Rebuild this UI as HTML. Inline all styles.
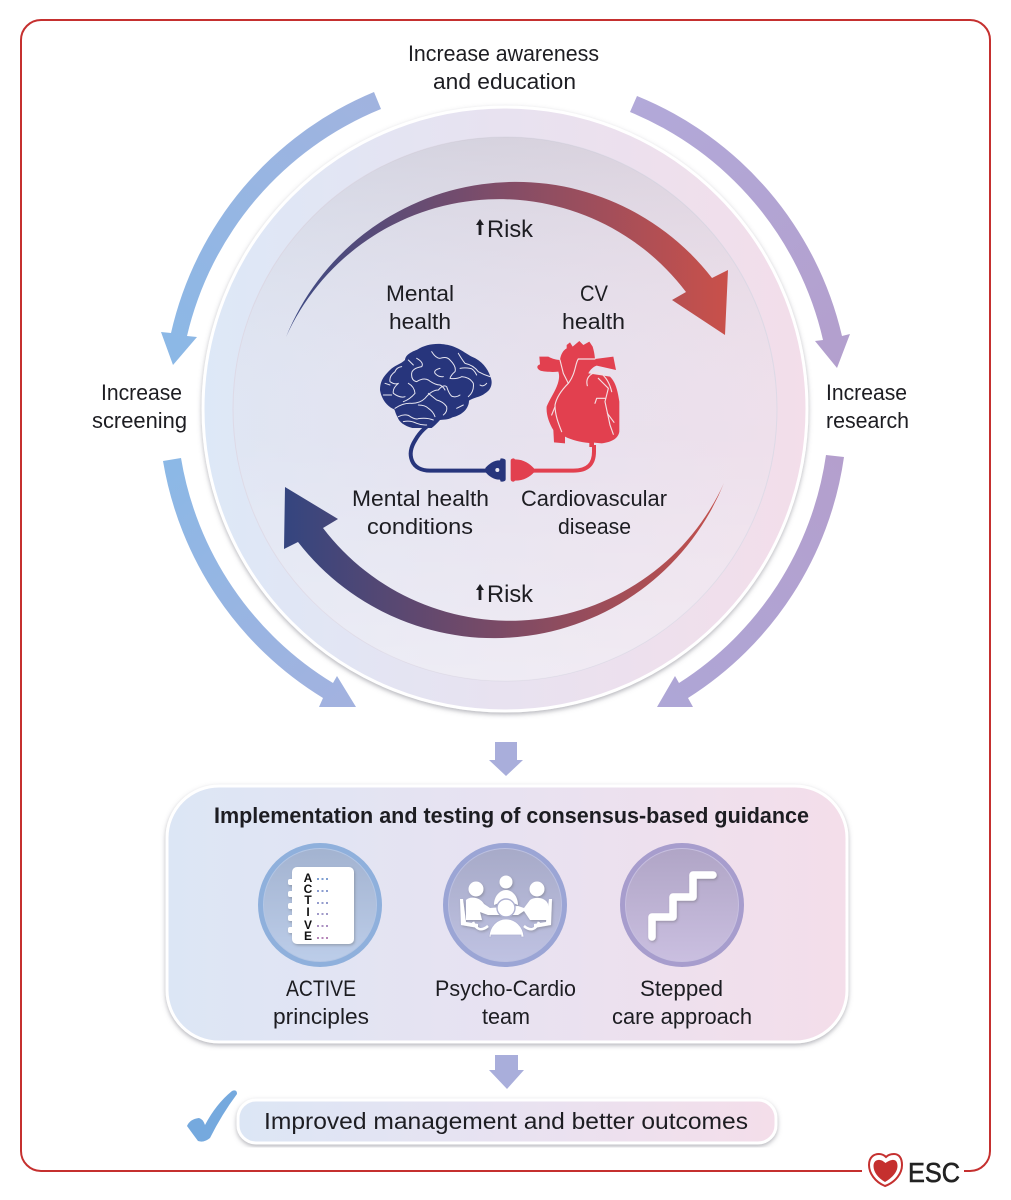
<!DOCTYPE html>
<html lang="en">
<head>
<meta charset="utf-8">
<title>Mental health and cardiovascular health</title>
<style>
html,body{margin:0;padding:0;background:#fff;width:1011px;height:1200px;overflow:hidden}
svg{display:block}
text{font-family:"Liberation Sans",sans-serif;font-size:22px;fill:#1d1d22}
</style>
</head>
<body>
<svg width="1011" height="1200" viewBox="0 0 1011 1200" xmlns="http://www.w3.org/2000/svg">
<defs>
<linearGradient id="ring" x1="0" x2="1" y1="0" y2="0"><stop offset="0" stop-color="#dde8f7"/><stop offset=".5" stop-color="#e8e2f0"/><stop offset="1" stop-color="#f3deea"/></linearGradient>
<linearGradient id="inH" x1="0" x2="1" y1="0" y2="0"><stop offset="0" stop-color="#dfe5f3"/><stop offset=".5" stop-color="#e6e1ee"/><stop offset="1" stop-color="#eedfeb"/></linearGradient>
<linearGradient id="inV" x1="0" x2="0" y1="0" y2="1"><stop offset="0" stop-color="#8b8b92" stop-opacity=".17"/><stop offset=".55" stop-color="#fff" stop-opacity=".02"/><stop offset="1" stop-color="#fff" stop-opacity=".35"/></linearGradient>
<linearGradient id="rt" gradientUnits="userSpaceOnUse" x1="286" y1="0" x2="727" y2="0"><stop offset="0" stop-color="#3c4a84"/><stop offset="1" stop-color="#c9504a"/></linearGradient>
<linearGradient id="rb" gradientUnits="userSpaceOnUse" x1="284" y1="0" x2="724" y2="0"><stop offset="0" stop-color="#34457f"/><stop offset="1" stop-color="#c4504b"/></linearGradient>
<linearGradient id="bl" gradientUnits="userSpaceOnUse" x1="165" y1="360" x2="380" y2="95"><stop offset="0" stop-color="#8bb8e6"/><stop offset="1" stop-color="#a1b3df"/></linearGradient>
<linearGradient id="bl2" gradientUnits="userSpaceOnUse" x1="165" y1="460" x2="355" y2="705"><stop offset="0" stop-color="#8bb8e6"/><stop offset="1" stop-color="#a3b2df"/></linearGradient>
<linearGradient id="pu" gradientUnits="userSpaceOnUse" x1="632" y1="100" x2="850" y2="365"><stop offset="0" stop-color="#b2a9d9"/><stop offset="1" stop-color="#b39fcd"/></linearGradient>
<linearGradient id="pu2" gradientUnits="userSpaceOnUse" x1="844" y1="457" x2="657" y2="707"><stop offset="0" stop-color="#b49fcd"/><stop offset="1" stop-color="#aea6d6"/></linearGradient>
<linearGradient id="box" x1="0" x2="1" y1="0" y2="0"><stop offset="0" stop-color="#dce6f5"/><stop offset=".5" stop-color="#e8e2f1"/><stop offset="1" stop-color="#f4deea"/></linearGradient>
<linearGradient id="c1" x1="0" x2="0" y1="0" y2="1"><stop offset="0" stop-color="#a3b3d0"/><stop offset="1" stop-color="#bccde9"/></linearGradient>
<linearGradient id="c2" x1="0" x2="0" y1="0" y2="1"><stop offset="0" stop-color="#a7aac8"/><stop offset="1" stop-color="#bfc2e2"/></linearGradient>
<linearGradient id="c3" x1="0" x2="0" y1="0" y2="1"><stop offset="0" stop-color="#b0a5c6"/><stop offset="1" stop-color="#cabfe0"/></linearGradient>
<filter id="sh" x="-10%" y="-10%" width="120%" height="120%"><feDropShadow dx="0" dy="2" stdDeviation="2.5" flood-color="#6b6b78" flood-opacity=".5"/></filter>
<filter id="sm" x="-20%" y="-20%" width="140%" height="140%"><feDropShadow dx="1" dy="1.5" stdDeviation="1.2" flood-color="#555" flood-opacity=".35"/></filter>
</defs>

<!-- frame -->
<path d="M862 1171H41A20 20 0 0 1 21 1151V40A20 20 0 0 1 41 20H970A20 20 0 0 1 990 40V1151A20 20 0 0 1 970 1171H964" fill="none" stroke="#c5302f" stroke-width="2"/>

<!-- outer arrows -->
<path d="M374 92A343 343 0 0 0 171 333L161 332L173 365L197 337L187 336A325 325 0 0 1 381 109Z" fill="url(#bl)"/>
<path d="M637 96A343 343 0 0 1 842 336L850 334L837 368L815 341L823 340A325 325 0 0 0 630 112Z" fill="url(#pu)"/>
<path d="M163 461A344 344 0 0 0 323 698L319 707L356 707L337 676L333 683A326 326 0 0 1 181 458Z" fill="url(#bl2)"/>
<path d="M844 457A342 342 0 0 1 688 698L693 707L657 707L675 676L679 683A325 325 0 0 0 826 455Z" fill="url(#pu2)"/>

<!-- main disk -->
<circle cx="505" cy="409" r="302" fill="url(#ring)" stroke="#fff" stroke-width="3" filter="url(#sh)"/>
<circle cx="505" cy="409" r="272" fill="url(#inH)" stroke="#ddd9e6" stroke-width="1"/>
<circle cx="505" cy="409" r="272" fill="url(#inV)"/>

<!-- risk arrows -->
<path d="M286 337A248 248 0 0 1 712 278L728 270L725 335L672 300L686 292A234 234 0 0 0 286 337Z" fill="url(#rt)"/>
<path d="M724 483A248 248 0 0 1 298 542L284 549L285 487L338 519L323 528A235 235 0 0 0 724 483Z" fill="url(#rb)"/>
<path d="M480 219l-4 6h2.6v10h2.8v-10h2.6z" fill="#1d1d22"/>
<path d="M480 584l-4 6h2.6v10h2.8v-10h2.6z" fill="#1d1d22"/>

<!-- cords and plugs -->
<g transform="translate(340 330) scale(.33333)">
  <path d="M290 270C262 285 240 305 226 330C212 352 208 372 216 392C224 412 244 422 270 422L440 422" fill="none" stroke="#27357c" stroke-width="12" stroke-linecap="round"/>
  <path d="M762 345V365C762 400 745 422 700 422H570" fill="none" stroke="#e2404f" stroke-width="12"/>
  <path d="M436 414C446 402 462 390 480 391L482 385Q497 385 497 392L497 448Q497 455 482 455L480 449C462 450 446 438 436 426Z" fill="#27357c"/>
  <circle cx="472" cy="420" r="6" fill="#e9e7f0"/>
  <path d="M512 392Q512 385 522 385L525 388C552 388 570 402 582 415L582 427C570 440 552 452 525 452L522 455Q512 455 512 448Z" fill="#e2404f"/>
</g>

<!-- brain -->
<g transform="translate(375 340) scale(.33333)">
  <path d="M15 150C15 128 22 112 45 90C55 78 78 72 90 60C92 42 112 35 128 28C150 14 185 8 212 14C245 18 268 38 290 50C320 62 338 85 346 110C355 130 348 150 330 160C315 172 295 172 282 182C282 205 262 226 232 232C218 240 204 238 195 240C186 250 178 258 170 264L112 264C88 258 72 245 68 232C62 222 60 212 58 208C40 202 20 182 15 150Z" fill="#27357c"/>
  <g fill="none" stroke="#e6e5f0" stroke-width="3" stroke-linecap="round" stroke-linejoin="round">
    <path d="M60 205Q85 188 110 190Q135 190 150 175Q170 150 190 150Q205 132 215 140Q225 170 235 170Q245 172 255 165"/>
    <path d="M125 55Q148 68 140 80Q112 85 110 100Q108 122 125 125Q145 112 160 120Q180 135 195 135Q205 140 210 150"/>
    <path d="M170 35Q182 55 195 55Q215 48 225 60Q245 80 240 95Q228 105 225 115Q245 118 260 110Q285 112 295 130Q298 155 280 170"/>
    <path d="M80 80Q65 82 60 95Q42 108 45 125Q60 135 70 130Q52 145 55 160Q75 175 90 170"/>
    <path d="M100 130Q118 140 120 160Q105 178 85 185"/>
    <path d="M250 40Q262 60 270 70Q295 75 310 95Q328 105 345 110"/>
    <path d="M160 160Q175 172 185 180Q205 185 215 200Q218 215 205 225"/>
    <path d="M130 195Q150 195 160 205Q175 215 180 230"/>
    <path d="M70 230Q85 222 100 226Q120 240 130 236Q155 232 175 240"/>
    <path d="M85 245Q105 240 125 250Q140 256 155 255"/>
    <path d="M305 105Q295 85 285 85Q270 82 255 85"/>
    <path d="M315 135Q325 142 335 130"/>
    <path d="M30 130L45 135M25 165L50 165"/>
    <path d="M195 85Q175 90 180 100Q190 112 205 110"/>
    <path d="M245 205L265 195"/>
    <path d="M100 60L115 75"/>
  </g>
</g>

<!-- heart -->
<g transform="translate(530 335) scale(.33333)">
  <path d="M110 30L120 22L128 35L148 18L160 30L178 20L188 35C192 48 194 60 195 72L250 65L258 105L200 92C190 95 180 105 175 115L240 125C255 140 262 160 268 200L268 290C265 310 245 322 215 325L192 323L192 336L178 336L178 324C150 322 125 315 105 305L105 325L72 322L70 285C58 265 48 240 50 215C58 195 72 175 80 155C86 140 90 125 85 110C65 112 45 110 35 108C22 105 16 92 30 88L28 65L55 65C68 72 80 75 90 75C92 58 100 45 110 40Z" fill="#e2404f"/>
  <g fill="none" stroke="#f4dfe3" stroke-width="3.4" stroke-linecap="round" stroke-linejoin="round">
    <path d="M90 75L100 115L115 145"/>
    <path d="M145 72C135 85 138 115 115 145C95 165 80 185 75 210C75 240 85 265 95 290"/>
    <path d="M75 215L65 240"/>
    <path d="M145 72L195 72"/>
    <path d="M172 152C166 130 180 115 200 112C220 112 238 140 245 170"/>
    <path d="M205 130L235 160L225 200L240 270L250 298"/>
    <path d="M225 190L200 190L195 205"/>
    <path d="M232 235L252 262"/>
  </g>
</g>

<!-- top arrow down -->
<path d="M495 742H517V760H523L506 776L489 760H495Z" fill="#a9aedb"/>

<!-- box -->
<rect x="167" y="786" width="680" height="256" rx="52" fill="url(#box)" stroke="#fff" stroke-width="3" filter="url(#sh)"/>

<!-- icons -->
<circle cx="320" cy="905" r="62" fill="#8fb0dc"/><circle cx="320" cy="905" r="56.5" fill="url(#c1)" stroke="#b4c6e4" stroke-width="1"/>
<circle cx="505" cy="905" r="62" fill="#9ba5d5"/><circle cx="505" cy="905" r="56.5" fill="url(#c2)" stroke="#bcc0e0" stroke-width="1"/>
<circle cx="682" cy="905" r="62" fill="#a79dcd"/><circle cx="682" cy="905" r="56.5" fill="url(#c3)" stroke="#c7bfdf" stroke-width="1"/>

<g filter="url(#sm)" fill="#fff">
  <rect x="292" y="867" width="62" height="77" rx="5"/>
  <rect x="288" y="879" width="8" height="6" rx="2"/><rect x="288" y="891" width="8" height="6" rx="2"/><rect x="288" y="903" width="8" height="6" rx="2"/><rect x="288" y="915" width="8" height="6" rx="2"/><rect x="288" y="927" width="8" height="6" rx="2"/>
</g>
<g text-anchor="middle">
  <text x="308" y="882" style="font-size:12px;font-weight:bold;fill:#111">A</text>
  <text x="308" y="893" style="font-size:12px;font-weight:bold;fill:#111">C</text>
  <text x="308" y="904" style="font-size:12px;font-weight:bold;fill:#111">T</text>
  <text x="308" y="916" style="font-size:12px;font-weight:bold;fill:#111">I</text>
  <text x="308" y="929" style="font-size:12px;font-weight:bold;fill:#111">V</text>
  <text x="308" y="940" style="font-size:12px;font-weight:bold;fill:#111">E</text>
</g>
<g stroke-width="2" stroke-dasharray="2 2.5" fill="none">
  <path d="M317 879H329" stroke="#7f9fd2"/><path d="M317 891H329" stroke="#8b9dd0"/><path d="M317 903H329" stroke="#949ccd"/><path d="M317 914H329" stroke="#a09ac8"/><path d="M317 926H329" stroke="#ab90c2"/><path d="M317 938H329" stroke="#b685b8"/>
</g>

<g filter="url(#sm)" fill="#fff">
  <circle cx="476" cy="889" r="7.5"/><circle cx="506" cy="882" r="6.5"/><circle cx="537" cy="889" r="7.5"/>
  <path d="M494 905C494 896 500 890 506 890C512 890 518 896 518 905L506 900Z"/>
  <path d="M466 900C470 896 480 897 484 904L490 908L518 906L524 908L530 900C536 896 546 898 548 904L549 920H530L524 911L518 915H488L480 912L482 920H466Z"/>
  <path d="M460 899L463 899L466 922L478 924L478 928L461 925Z"/>
  <path d="M552 899L549 899L546 922L534 924L534 928L551 925Z"/>
  <path d="M473 922C476 929 481 932 488 926" fill="none" stroke="#fff" stroke-width="2.5"/>
  <path d="M539 922C536 929 531 932 524 926" fill="none" stroke="#fff" stroke-width="2.5"/>
</g>
<circle cx="506" cy="908" r="9" fill="#fff" stroke="#aeb1d2" stroke-width="1.4"/>
<path d="M489 937C490 926 497 919 506 919C515 919 523 926 524 937H521V935H491V937Z" fill="#fff" stroke="#b0b3d4" stroke-width=".8"/>
<path d="M652 937V917H673V897H693V875H713" fill="none" stroke="#fff" stroke-width="7.5" stroke-linecap="round" stroke-linejoin="round" filter="url(#sm)"/>

<!-- bottom arrow -->
<path d="M495 1055H518V1070H524L507 1089L489 1070H495Z" fill="#a9aedb"/>

<!-- check mark -->
<path d="M187 1126Q190 1119 199 1118Q203 1119 205 1125Q216 1104 232 1091Q237 1089 237 1094Q222 1114 210 1138Q204 1143 198 1141Q192 1133 187 1126Z" fill="#75a9de"/>

<!-- pill -->
<rect x="238" y="1100" width="538" height="43" rx="18" fill="url(#box)" stroke="#fff" stroke-width="3" filter="url(#sh)"/>

<!-- texts -->
<g>
<text x="408" y="61" textLength="191" lengthAdjust="spacingAndGlyphs">Increase awareness</text>
<text x="433" y="89" textLength="143" lengthAdjust="spacingAndGlyphs">and education</text>
<text x="101" y="400" textLength="81" lengthAdjust="spacingAndGlyphs">Increase</text>
<text x="92" y="428" textLength="95" lengthAdjust="spacingAndGlyphs">screening</text>
<text x="826" y="400" textLength="81" lengthAdjust="spacingAndGlyphs">Increase</text>
<text x="826" y="428" textLength="83" lengthAdjust="spacingAndGlyphs">research</text>
<text x="487" y="237" textLength="46" lengthAdjust="spacingAndGlyphs" style="font-size:24px">Risk</text>
<text x="487" y="602" textLength="46" lengthAdjust="spacingAndGlyphs" style="font-size:24px">Risk</text>
<text x="386" y="301" textLength="68" lengthAdjust="spacingAndGlyphs">Mental</text>
<text x="389" y="329" textLength="62" lengthAdjust="spacingAndGlyphs">health</text>
<text x="580" y="301" textLength="28" lengthAdjust="spacingAndGlyphs">CV</text>
<text x="562" y="329" textLength="63" lengthAdjust="spacingAndGlyphs">health</text>
<text x="352" y="506" textLength="137" lengthAdjust="spacingAndGlyphs">Mental health</text>
<text x="367" y="534" textLength="106" lengthAdjust="spacingAndGlyphs">conditions</text>
<text x="521" y="506" textLength="146" lengthAdjust="spacingAndGlyphs">Cardiovascular</text>
<text x="558" y="534" textLength="73" lengthAdjust="spacingAndGlyphs">disease</text>
<text x="214" y="823" textLength="595" lengthAdjust="spacingAndGlyphs" style="font-weight:bold">Implementation and testing of consensus-based guidance</text>
<text x="286" y="996" textLength="70" lengthAdjust="spacingAndGlyphs">ACTIVE</text>
<text x="273" y="1024" textLength="96" lengthAdjust="spacingAndGlyphs">principles</text>
<text x="435" y="996" textLength="141" lengthAdjust="spacingAndGlyphs">Psycho-Cardio</text>
<text x="482" y="1024" textLength="48" lengthAdjust="spacingAndGlyphs">team</text>
<text x="640" y="996" textLength="83" lengthAdjust="spacingAndGlyphs">Stepped</text>
<text x="612" y="1024" textLength="140" lengthAdjust="spacingAndGlyphs">care approach</text>
<text x="264" y="1129" textLength="484" lengthAdjust="spacingAndGlyphs" style="font-size:23px">Improved management and better outcomes</text>
</g>

<!-- ESC logo -->
<path d="M885 1186C875 1182 869 1173 869 1165C869 1157 874 1154 879 1154C882 1154 884 1155 886 1157C888 1155 891 1154 894 1154C899 1154 902 1158 902 1165C902 1173 896 1182 885 1186Z" fill="#fff" stroke="#c5302f" stroke-width="2"/>
<path d="M885 1182C878 1178 873.500 1172 873.500 1166C873.500 1161 877 1159.500 880 1160C883 1160.500 884 1162 885.500 1163C887 1162 889 1160.500 892 1160C895 1159.500 897.500 1161 897.500 1166C897.500 1172 892 1178 885 1182Z" fill="#c5302f"/>
<text x="908" y="1182" textLength="52" lengthAdjust="spacingAndGlyphs" style="font-size:28px;fill:#222;stroke:#222;stroke-width:.6">ESC</text>
</svg>
</body>
</html>
